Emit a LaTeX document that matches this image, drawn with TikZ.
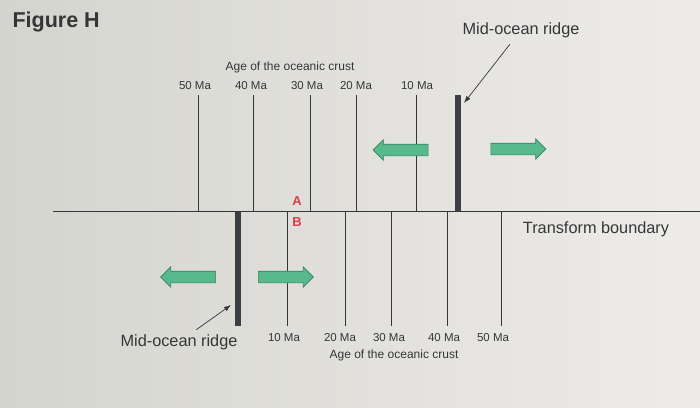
\documentclass[tikz,border=0pt]{standalone}
\usepackage{fontspec}
\setmainfont{Liberation Sans}
\usetikzlibrary{shapes.arrows, arrows.meta}

\definecolor{inkgray}{RGB}{52,54,56}
\definecolor{ridgegray}{RGB}{58,63,68}
\definecolor{plategreen}{RGB}{88,186,140}
\definecolor{platedark}{RGB}{52,128,96}
\definecolor{markred}{RGB}{214,62,74}
\definecolor{screenlight}{RGB}{238,236,233}
\definecolor{screendark}{RGB}{212,212,206}

\tikzset{
  ageline/.style={inkgray, line width=0.8pt},
  ridge/.style={ridgegray, line width=6pt},
  agelabel/.style={text=inkgray, font=\fontsize{11.5}{12}\selectfont, inner sep=1pt},
  crustlabel/.style={text=inkgray, font=\fontsize{12}{12}\selectfont, inner sep=1pt},
  bigtext/.style={text=inkgray, font=\fontsize{16.3}{17}\selectfont},
  pointer/.style={inkgray, line width=0.7pt, -{Latex[length=7pt, width=5pt]}},
  platemove/.style={single arrow, draw=platedark, fill=plategreen, line width=0.6pt,
    minimum height=55pt, minimum width=20pt, inner sep=5.5pt,
    single arrow head extend=4.5pt},
  marker/.style={text=markred, font=\bfseries\fontsize{13}{13}\selectfont, inner sep=0pt}
}

\begin{document}
\begin{tikzpicture}[x=1pt, y=-1pt]
  \useasboundingbox (0,0) rectangle (700,407);
  \shade [left color=screendark, right color=screenlight] (0,0) rectangle (700,407);

  \node [anchor=west, text=inkgray, font=\bfseries\fontsize{21.5}{22}\selectfont] (title) at (9,22) {Figure H};

  % transform boundary
  \draw [ageline] (53,211.5) -- (700,211.5);
  \node [bigtext] (transform) at (596,229) {Transform boundary};

  % upper plate
  \node [crustlabel] (crustU) at (290,67) {Age of the oceanic crust};
  \node [agelabel] (u50) at (195,86) {50 Ma};
  \node [agelabel] (u40) at (251,86) {40 Ma};
  \node [agelabel] (u30) at (307,86) {30 Ma};
  \node [agelabel] (u20) at (356,86) {20 Ma};
  \node [agelabel] (u10) at (417,86) {10 Ma};
  \draw [ageline] (198,95) -- (198,211.5);
  \draw [ageline] (253,95) -- (253,211.5);
  \draw [ageline] (310,95) -- (310,211.5);
  \draw [ageline] (356,95) -- (356,211.5);
  \draw [ageline] (416,95) -- (416,211.5);
  \draw [ridge] (458,95) -- (458,211.5);

  \node [platemove, shape border rotate=180] (pushUL) at (403.5,150) {};
  \node [platemove] (pushUR) at (515.5,149) {};

  \node [bigtext] (ridgelabelU) at (521,30) {Mid-ocean ridge};
  \coordinate (ridgetipU) at (464,103);
  \draw [pointer, shorten <=4pt] (ridgelabelU) -- (ridgetipU);

  % lower plate
  \draw [ridge] (238,211.5) -- (238,326);
  \draw [ageline] (287,211.5) -- (287,326);
  \draw [ageline] (345,211.5) -- (345,326);
  \draw [ageline] (391,211.5) -- (391,326);
  \draw [ageline] (447,211.5) -- (447,326);
  \draw [ageline] (501,211.5) -- (501,326);
  \node [agelabel] (l10) at (284,338) {10 Ma};
  \node [agelabel] (l20) at (340,338) {20 Ma};
  \node [agelabel] (l30) at (389,338) {30 Ma};
  \node [agelabel] (l40) at (444,338) {40 Ma};
  \node [agelabel] (l50) at (493,338) {50 Ma};
  \node [crustlabel] (crustL) at (394,355) {Age of the oceanic crust};

  \node [platemove, shape border rotate=180] (pushLL) at (191,277) {};
  \node [platemove] (pushLR) at (283,277) {};

  \node [bigtext] (ridgelabelL) at (179,342) {Mid-ocean ridge};
  \coordinate (ridgetipL) at (231,305);
  \draw [pointer, shorten <=2pt] (ridgelabelL) -- (ridgetipL);

  % points either side of the fault
  \node [marker] (pointA) at (297,201) {A};
  \node [marker] (pointB) at (297,222) {B};
\end{tikzpicture}
\end{document}
